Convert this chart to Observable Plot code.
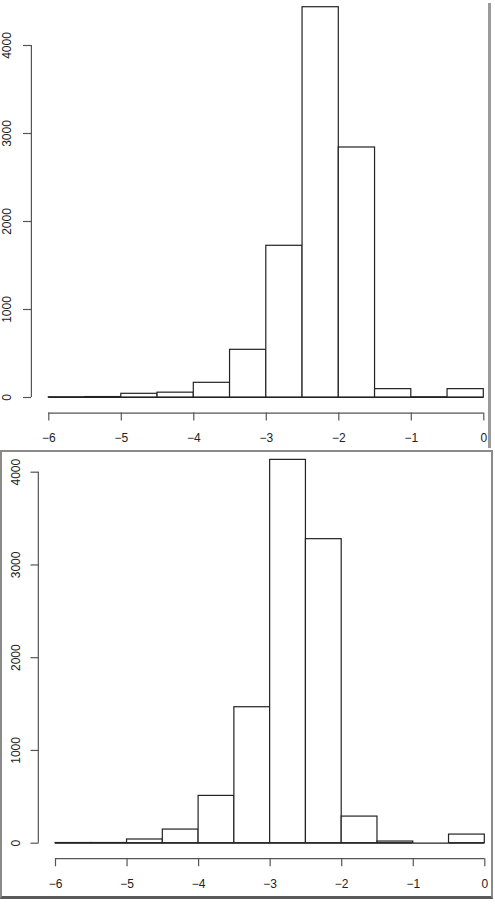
<!DOCTYPE html>
<html>
<head>
<meta charset="utf-8">
<script src="https://cdn.jsdelivr.net/npm/d3@7"></script>
<script src="https://cdn.jsdelivr.net/npm/@observablehq/plot@0.6"></script>
<style>
  html, body { margin: 0; padding: 0; background: white; }
  #page { position: relative; width: 495px; height: 905px; overflow: hidden; font-family: "Liberation Sans", Arial, sans-serif; }
  #top { position: absolute; left: 0; top: 0; width: 489px; height: 448px; }
  #topEdge { position: absolute; left: 488px; top: 3px; width: 3px; height: 445px; background: #9a9a9a; }
  #bottom { position: absolute; left: 0; top: 450px; width: 493px; height: 448px; }
  #box { position: absolute; left: 0; top: 450px; width: 489px; height: 444px; border: 2px solid #8a8a8a; border-bottom: 3px solid #5a5a5a; pointer-events: none; }
</style>
</head>
<body>
<div id="page">
  <div id="top"></div>
  <div id="topEdge"></div>
  <div id="bottom"></div>
  <div id="box"></div>
</div>
<script>
// Histogram bin breaks (shared by both panels)
const breaks = [-6, -5.5, -5, -4.5, -4, -3.5, -3, -2.5, -2, -1.5, -1, -0.5, 0];
// Counts per bin, upper panel
const countsTop = [3, 5, 42, 55, 167, 542, 1724, 4435, 2841, 95, 3, 95];
// Counts per bin, lower panel
const countsBottom = [2, 2, 40, 147, 510, 1466, 4133, 3278, 287, 18, 0, 93];
// Axis tick values
const xTicks = [-6, -5, -4, -3, -2, -1, 0];
const yTicks = [0, 1000, 2000, 3000, 4000];

const fmt = d3.format("d");

function bins(counts) {
  return counts.map((c, i) => ({x1: breaks[i], x2: breaks[i + 1], count: c}));
}

function hist(counts, o) {
  const data = bins(counts);
  const xMin = d3.min(breaks), xMax = d3.max(breaks);
  const xAxisPos = xMin - 0.04 * (xMax - xMin);        // R-style offset y axis position
  const yAxisPos = -0.04 * d3.max(counts);              // R-style offset x axis position
  return Plot.plot({
    width: o.width,
    height: o.height,
    marginLeft: o.marginLeft,
    marginRight: 0,
    marginTop: 0,
    marginBottom: o.marginBottom,
    style: {background: "transparent", fontFamily: "'Liberation Sans', Arial, sans-serif", fontSize: "12px", color: "#222", overflow: "visible"},
    x: {domain: [xMin, xMax], range: o.xRange},
    y: {domain: [0, 4000], range: o.yRange},
    marks: [
      Plot.rect(data, {x1: "x1", x2: "x2", y1: 0, y2: "count", fill: "white", stroke: "#222", strokeWidth: 1.2}),
      // bottom edge of every bin (visible even for empty bins, as in R)
      Plot.ruleY(data, {x1: "x1", x2: "x2", y: 0, stroke: "#222", strokeWidth: 1.2}),
      Plot.ruleX([xAxisPos], {y1: 0, y2: 4000, stroke: "#555", strokeWidth: 1.2}),
      Plot.ruleY([yAxisPos], {x1: xMin, x2: xMax, stroke: "#555", strokeWidth: 1.2}),
      Plot.axisY({ticks: yTicks, tickFormat: fmt, tickSize: 8, tickPadding: o.yPad, tickRotate: -90, textAnchor: "middle", lineAnchor: "middle", stroke: "#555", strokeWidth: 1.2, label: null, fill: "#222"}),
      Plot.axisX({ticks: xTicks, tickFormat: fmt, tickSize: 8, tickPadding: o.xPad, stroke: "#555", strokeWidth: 1.2, label: null, fill: "#222"})
    ]
  });
}

document.getElementById("top").append(hist(countsTop, {
  width: 489, height: 448, marginLeft: 31, marginBottom: 35.4,
  xRange: [48.3, 483.3], yRange: [397, 45], yPad: 16.5, xPad: 12
}));

document.getElementById("bottom").append(hist(countsBottom, {
  width: 493, height: 448, marginLeft: 38.5, marginBottom: 39.7,
  xRange: [55, 484.3], yRange: [392.7, 21.7], yPad: 14.5, xPad: 12.5
}));
</script>
</body>
</html>
